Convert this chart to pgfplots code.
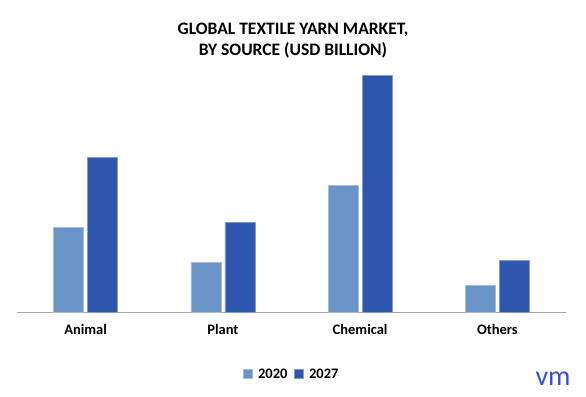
\documentclass[border=0pt]{standalone}
\usepackage{pgfplots}
\pgfplotsset{compat=1.18}
\usepackage{fontspec}
\setmainfont{Carlito}
\definecolor{cA}{HTML}{6A93C8}
\definecolor{cB}{HTML}{2E56AE}
\definecolor{logo}{HTML}{3A4FD0}
\begin{document}
\begin{tikzpicture}[x=1bp,y=1bp]
\path[use as bounding box] (0,0) rectangle (586,396);
\node[font=\fontsize{17.5bp}{21bp}\selectfont\bfseries, align=center] at (293,355) {GLOBAL TEXTILE YARN MARKET,\\BY SOURCE (USD BILLION)};
\begin{axis}[
  at={(17bp,84bp)}, anchor=south west,
  scale only axis, width=549bp, height=250bp,
  xmin=-0.5, xmax=3.5, ymin=0, ymax=250,
  axis x line*=bottom, axis y line=none,
  x axis line style={black!35, line width=0.8pt, -},
  xtick=data, xticklabels={Animal,Plant,Chemical,Others},
  major tick length=0pt,
  xticklabel style={font=\fontsize{14.5bp}{16bp}\selectfont\bfseries, yshift=-9bp},
  ybar, bar width=30bp,
  clip=false,
  legend style={at={(0.5,-0.248)}, anchor=center, draw=none, legend columns=2,
    font=\fontsize{14.5bp}{16bp}\selectfont\bfseries, column sep=4bp,
    /tikz/every odd column/.append style={column sep=4bp}},
  legend image code/.code={\fill[#1] (0bp,-4.5bp) rectangle (9bp,4.5bp);},
]
\addplot[fill=cA, draw=white!40!cA, line width=0.6pt, bar shift=-17bp] coordinates {(0,84.7) (1,49.3) (2,127) (3,27)};
\addplot[fill=cB, draw=white!40!cB, line width=0.6pt, bar shift=17bp] coordinates {(0,154.7) (1,89.3) (2,237) (3,52)};
\legend{2020,2027}
\end{axis}
\node[text=logo, font=\fontsize{28bp}{28bp}\selectfont] at (553,17) {vm};
\end{tikzpicture}
\end{document}
